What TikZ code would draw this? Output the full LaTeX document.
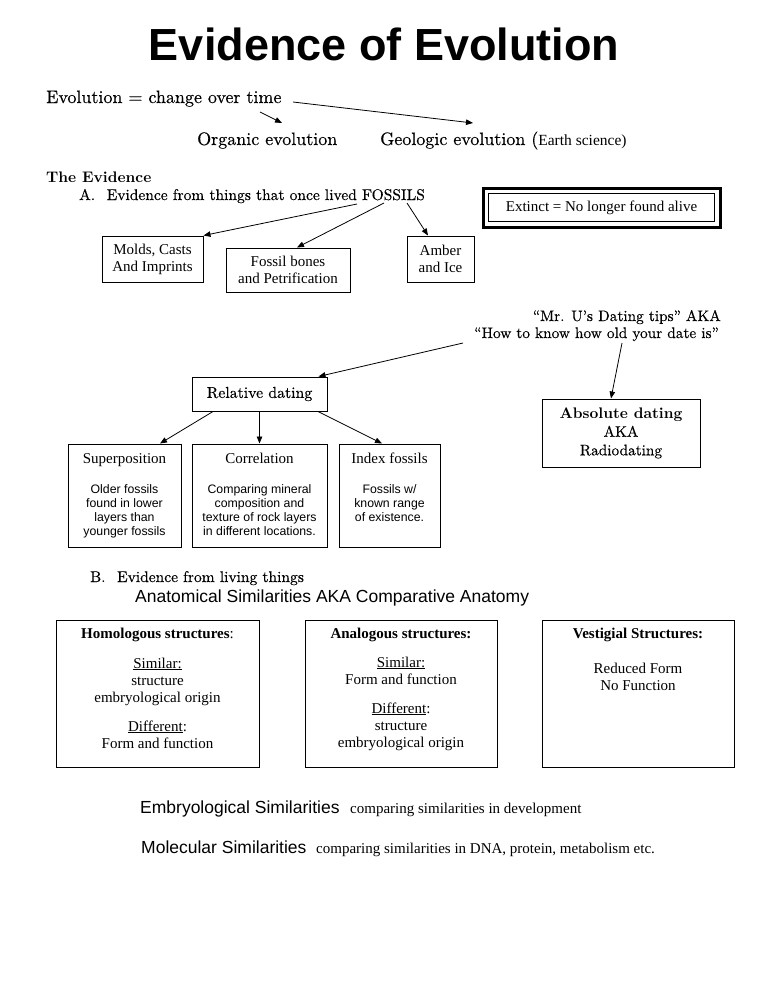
\documentclass[tikz,border=0pt]{standalone}
\usepackage{fontspec}
\setmainfont{lmroman10-regular.otf}[BoldFont=lmroman10-bold.otf, ItalicFont=lmroman10-italic.otf, UprightFeatures={FakeBold=0.35}]
\newfontfamily\tnr{Liberation Serif}
\newfontfamily\arl{Liberation Sans}
\usetikzlibrary{arrows.meta,calc}
\newcommand{\mylines}[1]{\begin{tabular}[t]{@{}c@{}}#1\end{tabular}}
\newcommand{\fs}[2]{\fontsize{#1}{#2}\selectfont}
\begin{document}
\begin{tikzpicture}[x=1pt,y=-1pt,
  box/.style={draw, line width=1pt, rectangle, inner sep=0pt},
  arr/.style={-{Triangle[length=7pt,width=5.5pt]}, line width=0.8pt},
  txt/.style={inner sep=0pt, anchor=base},
  txtw/.style={inner sep=0pt, anchor=base west},
  txte/.style={inner sep=0pt, anchor=base east},
  cs/.style={font=\fs{15.5}{17}},
  csbig/.style={font=\fs{18}{20}},
  tms/.style={font=\tnr\fs{15}{17}},
  ari/.style={font=\arl\fs{12.3}{14}},
  arib/.style={font=\arl\fs{17.5}{20}},
]
\fill[white] (0,0) rectangle (768,994);
\useasboundingbox (0,0) rectangle (768,994);

% title
\node[txt, font=\arl\bfseries\fs{45}{50}] (title) at (384,60) {Evidence of Evolution};

% top lines
\node[txtw, csbig] (evo) at (46,103) {Evolution = change over time};
\node[txtw, csbig] (organic) at (197,145) {Organic evolution};
\node[txtw, csbig] (geologic) at (380,145) {Geologic evolution ({\tnr\fs{15.5}{17}Earth science)}};
\coordinate (e1) at (260,112);
\coordinate (e1h) at (282,123);
\coordinate (e2) at (293,102);
\coordinate (e2h) at (473,123);
\draw[arr] (e1) -- (e1h);
\draw[arr] (e2) -- (e2h);

% the evidence
\node[txtw, font=\bfseries\fs{15.3}{17}] (heading) at (46,182) {The Evidence};
\node[txtw, cs] (aline) at (79,200) {A.\hspace{0.75em}Evidence from things that once lived FOSSILS};

\node[box, minimum width=237pt, minimum height=39pt, line width=3pt] (extinct) at (601.5,207.5) {};
\node[box, minimum width=226pt, minimum height=28pt, line width=0.8pt, tms] (extinctin) at (601.5,207.5) {Extinct = No longer found alive};

\node[box, minimum width=101pt, minimum height=46pt, tms, align=center] (molds) at (152.5,259) {Molds, Casts\\And Imprints};
\node[box, minimum width=124pt, minimum height=44pt, tms, align=center] (bones) at (288,270) {Fossil bones\\and Petrification};
\node[box, minimum width=67pt, minimum height=46pt, tms, align=center] (amber) at (440.5,259) {Amber\\and Ice};

\coordinate (f1) at (357,204);
\coordinate (f2) at (384,203);
\coordinate (f3) at (407,203);
\draw[arr] (f1) -- (molds.north east);
\draw[arr] (f2) -- ([xshift=9pt]bones.north);
\draw[arr] (f3) -- ([xshift=-12.5pt]amber.north);

% dating
\node[txte, font=\fs{15.3}{17}] (mru1) at (721,321) {“Mr. U’s Dating tips” AKA};
\node[txte, font=\fs{15.3}{17}] (mru2) at (719,338) {“How to know how old your date is”};
\coordinate (mu1) at (463,343);
\coordinate (mu2) at (622,343);

\node[box, minimum width=135pt, minimum height=34pt, font=\fs{15.8}{17}] (relative) at (259.5,394) {Relative dating};
\node[box, minimum width=158pt, minimum height=68pt, align=center, font=\fs{15.3}{18.5}] (absolute) at (621,433) {\textbf{Absolute dating}\\AKA\\Radiodating};

\draw[arr] (mu1) -- ([xshift=-9pt]relative.north east);
\draw[arr] (mu2) -- ([xshift=-10pt]absolute.north);

\node[box, minimum width=113pt, minimum height=103pt] (super) at (124.5,495.5) {};
\node[box, minimum width=135pt, minimum height=103pt] (corr) at (259.5,495.5) {};
\node[box, minimum width=101pt, minimum height=103pt] (index) at (389.5,495.5) {};

\node[txt, tms] (supert) at (124.5,463) {Superposition};
\node[txt, ari] (superb) at (124.5,493) {\mylines{Older fossils\\found in lower\\layers than\\younger fossils}};
\node[txt, tms] (corrt) at (259.5,463) {Correlation};
\node[txt, ari] (corrb) at (259.5,493) {\mylines{Comparing mineral\\composition and\\texture of rock layers\\in different locations.}};
\node[txt, tms] (indext) at (389.5,463) {Index fossils};
\node[txt, ari] (indexb) at (389.5,493) {\mylines{Fossils w/\\known range\\of existence.}};

\draw[arr] ([xshift=-46.5pt]relative.south) -- ([xshift=35.5pt]super.north);
\draw[arr] (relative.south) -- (corr.north);
\draw[arr] ([xshift=58.5pt]relative.south) -- ([xshift=-7.5pt]index.north);

% living things
\node[txtw, cs] (bline) at (90,582) {B.\hspace{0.75em}Evidence from living things};
\node[txtw, arib] (anat) at (135,602) {Anatomical Similarities AKA Comparative Anatomy};

\node[box, minimum width=203pt, minimum height=147pt] (homo) at (157.5,693.5) {};
\node[box, minimum width=192pt, minimum height=147pt] (ana) at (401,693.5) {};
\node[box, minimum width=192pt, minimum height=147pt] (vest) at (638,693.5) {};

\node[txt, tms] (homot) at (157.5,638) {\textbf{Homologous structures}:};
\node[txt, tms] (homob) at (157.5,668) {\mylines{\underline{Similar:}\\structure\\embryological origin\\[12pt]\underline{Different}:\\Form and function}};
\node[txt, tms] (anat1) at (401,638) {\textbf{Analogous structures:}};
\node[txt, tms] (anab) at (401,667) {\mylines{\underline{Similar:}\\Form and function\\[12pt]\underline{Different}:\\structure\\embryological origin}};
\node[txt, tms] (vestt) at (638,638) {\textbf{Vestigial Structures:}};
\node[txt, tms] (vestb) at (638,673) {\mylines{Reduced Form\\No Function}};

\node[txtw, arib] (embryo) at (140,813) {Embryological Similarities};
\node[txtw, tms] (embryod) at (350,813) {comparing similarities in development};
\node[txtw, arib] (molec) at (141,853) {Molecular Similarities};
\node[txtw, tms] (molecd) at (316,853) {comparing similarities in DNA, protein, metabolism etc.};
\end{tikzpicture}
\end{document}
